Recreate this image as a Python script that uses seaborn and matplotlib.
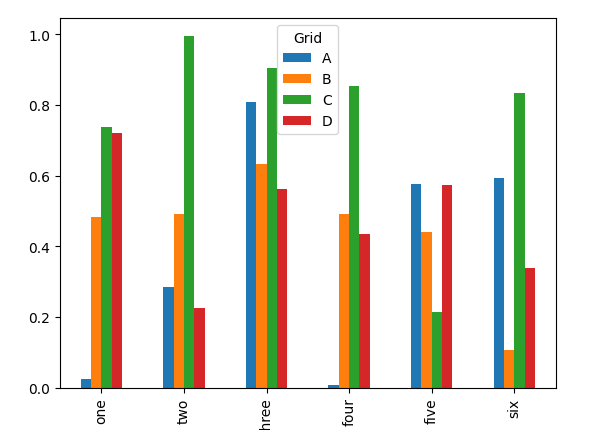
import pandas as pd
import matplotlib
matplotlib.use("Agg")
import matplotlib.pyplot as plt
import seaborn as sns

# valeurs
categories = ["one", "two", "three", "four", "five", "six"]
series = ["A", "B", "C", "D"]
val_a = [0.025, 0.286, 0.809, 0.006, 0.577, 0.592]
val_b = [0.484, 0.492, 0.634, 0.492, 0.439, 0.105]
val_c = [0.736, 0.996, 0.903, 0.852, 0.215, 0.835]
val_d = [0.719, 0.224, 0.563, 0.436, 0.572, 0.337]

wide = pd.DataFrame({"A": val_a, "B": val_b, "C": val_c, "D": val_d}, index=categories)
df = wide.reset_index().melt(id_vars="index", var_name="Grid", value_name="value")

colors = ["#1f77b4", "#ff7f0e", "#2ca02c", "#d62728"]

fig = plt.figure(figsize=(5.94, 4.31), dpi=100)
ax = fig.add_axes([0.101, 0.0984, 0.8345, 0.8575])
sns.barplot(data=df, x="index", y="value", hue="Grid", hue_order=series,
            order=categories, palette=colors, width=0.5, saturation=1,
            linewidth=0, ax=ax)

ax.set_xlabel("")
ax.set_ylabel("")
ax.tick_params(axis="x", rotation=90)
ax.legend(title="Grid", loc="upper center")

fig.savefig("out.png", dpi=100)
